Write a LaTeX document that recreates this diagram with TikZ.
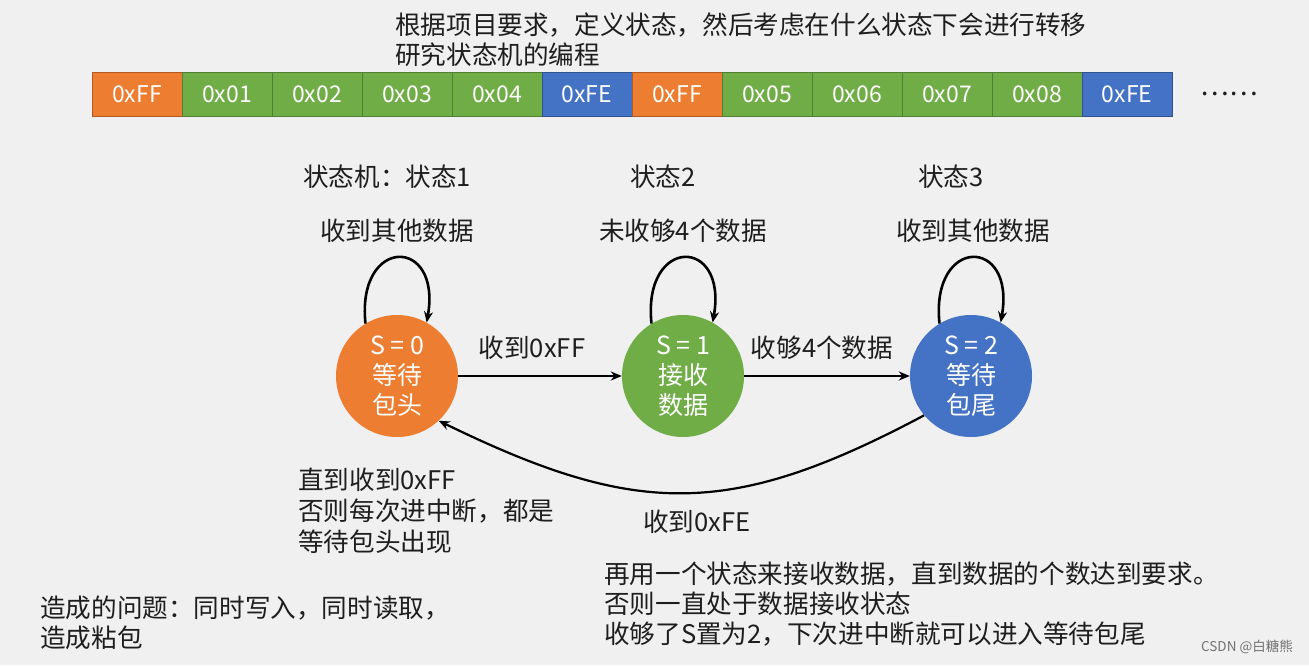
\documentclass[tikz,border=0pt]{standalone}
\usepackage{fontspec}
\setmainfont{Noto Sans CJK SC}
\usetikzlibrary{arrows.meta}
\definecolor{bgc}{HTML}{F0F0F0}
\definecolor{org}{HTML}{ED7D31}
\definecolor{grn}{HTML}{70AD47}
\definecolor{blu}{HTML}{4472C4}
\definecolor{orgd}{HTML}{AE5A21}
\definecolor{grnd}{HTML}{507E32}
\definecolor{blud}{HTML}{2F528F}
\definecolor{txt}{HTML}{1E1E1E}
\tikzset{
  cell/.style={draw=#1d, fill=#1, line width=1pt, minimum width=90pt, minimum height=44pt,
    inner sep=0pt, text=white, font=\fontsize{23}{27}\selectfont},
  state/.style={circle, fill=#1, draw=none, minimum size=122pt, inner sep=0pt, text=white,
    align=center, font=\fontsize{25}{30}\selectfont},
  lbl/.style={inner sep=0pt, text=txt, font=\fontsize{25.6}{30}\selectfont},
  arr/.style={draw=black, line width=2.4pt, -{Stealth[length=11pt,width=9pt]}},
  looparr/.style={draw=black, line width=2.6pt, -{Stealth[length=11pt,width=9pt]}},
}
\begin{document}
\begin{tikzpicture}[x=1pt,y=1pt]
\fill[bgc] (0,0) rectangle (1309,-665);
\useasboundingbox (0,0) rectangle (1309,-665);

% top text
\node[lbl, anchor=base west] (t1) at (395,-34) {根据项目要求，定义状态，然后考虑在什么状态下会进行转移};
\node[lbl, anchor=base west] (t2) at (395,-64) {研究状态机的编程};

% row of cells
\node[cell=org] (c1)  at (137,-94) {0xFF};
\node[cell=grn] (c2)  at (227,-94) {0x01};
\node[cell=grn] (c3)  at (317,-94) {0x02};
\node[cell=grn] (c4)  at (407,-94) {0x03};
\node[cell=grn] (c5)  at (497,-94) {0x04};
\node[cell=blu] (c6)  at (587,-94) {0xFE};
\node[cell=org] (c7)  at (677,-94) {0xFF};
\node[cell=grn] (c8)  at (767,-94) {0x05};
\node[cell=grn] (c9)  at (857,-94) {0x06};
\node[cell=grn] (c10) at (947,-94) {0x07};
\node[cell=grn] (c11) at (1037,-94) {0x08};
\node[cell=blu] (c12) at (1127,-94) {0xFE};
\node[lbl, anchor=center, font=\fontsize{27}{30}\selectfont] (dots) at (1229,-94) {……};

% state headings
\node[lbl, anchor=base west] (h1) at (303,-186) {状态机：状态1};
\node[lbl, anchor=base] (h2) at (663,-186) {状态2};
\node[lbl, anchor=base] (h3) at (951,-186) {状态3};

% loop labels
\node[lbl, anchor=base] (l1) at (397,-240) {收到其他数据};
\node[lbl, anchor=base] (l2) at (683,-240) {未收够4个数据};
\node[lbl, anchor=base] (l3) at (973,-240) {收到其他数据};

% states
\node[state=org] (s0) at (397,-376) {S = 0\\等待\\包头};
\node[state=grn] (s1) at (683,-376) {S = 1\\接收\\数据};
\node[state=blu] (s2) at (971,-376) {S = 2\\等待\\包尾};

% self loops
\draw[looparr] (s0.121) to[out=96,in=80,distance=88pt] (s0.61);
\draw[looparr] (s1.121) to[out=96,in=80,distance=88pt] (s1.61);
\draw[looparr] (s2.121) to[out=96,in=80,distance=88pt] (s2.61);

% transitions
\draw[arr] (s0.east) -- (s1.west);
\draw[arr] (s1.east) -- (s2.west);
\draw[arr, line width=2.2pt] (s2.220) to[out=208,in=-26,distance=220pt] (s0.-47);

\node[lbl, anchor=base] (e1) at (532,-357) {收到0xFF};
\node[lbl, anchor=base] (e2) at (822,-357) {收够4个数据};
\node[lbl, anchor=base west] (e3) at (643,-531) {收到0xFE};

% notes
\node[lbl, anchor=base west] (n1) at (298,-489) {直到收到0xFF};
\node[lbl, anchor=base west] (n2) at (298,-520) {否则每次进中断，都是};
\node[lbl, anchor=base west] (n3) at (298,-551) {等待包头出现};

\node[lbl, anchor=base west] (r1) at (604,-583) {再用一个状态来接收数据，直到数据的个数达到要求。};
\node[lbl, anchor=base west] (r2) at (604,-613) {否则一直处于数据接收状态};
\node[lbl, anchor=base west] (r3) at (604,-643) {收够了S置为2，下次进中断就可以进入等待包尾};

\node[lbl, anchor=base west] (b1) at (40,-617) {造成的问题：同时写入，同时读取，};
\node[lbl, anchor=base west] (b2) at (40,-647) {造成粘包};

\node[inner sep=0pt, anchor=base east, text=black!55, font=\fontsize{13.5}{16}\selectfont] (wm) at (1293,-651) {CSDN @白糖熊};
\end{tikzpicture}
\end{document}
